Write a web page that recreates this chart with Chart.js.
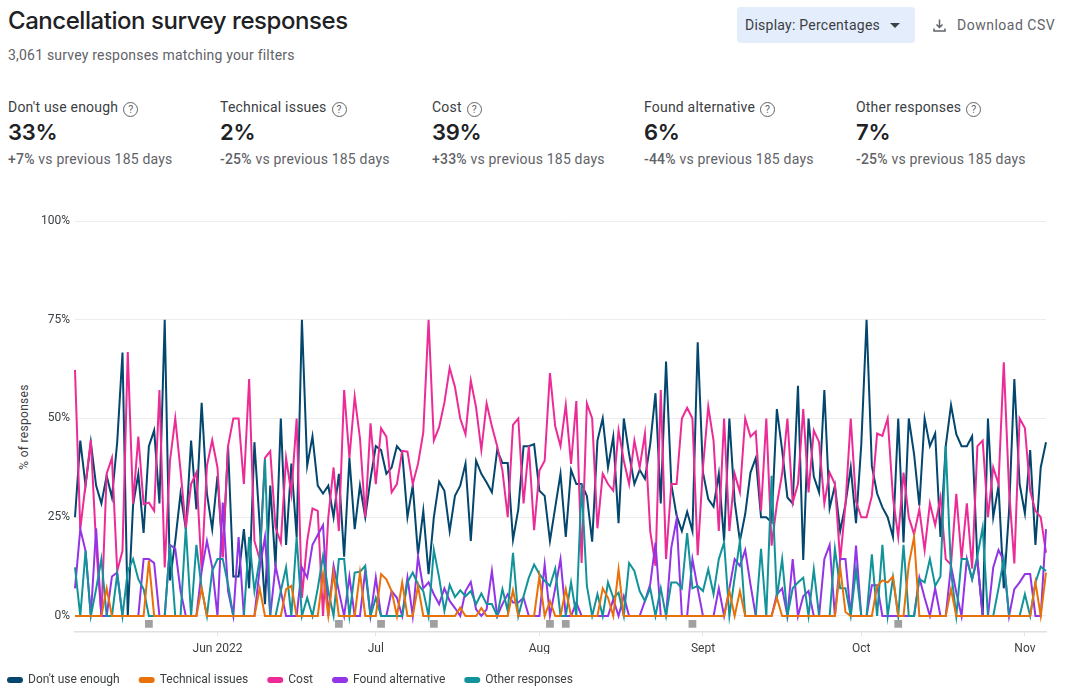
<!DOCTYPE html>
<html>
<head>
<meta charset="utf-8">
<script src="https://cdn.jsdelivr.net/npm/chart.js@4/dist/chart.umd.min.js"></script>
<style>
  html, body { margin: 0; padding: 0; background: #fff; }
  body { width: 1066px; height: 699px; position: relative; overflow: hidden; font-family: Roboto, sans-serif; color: #202124; }
  .abs { position: absolute; white-space: nowrap; }
  h1 { margin: 0; left: 8px; top: 6px; font: 500 24px/30px Inter, Roboto, sans-serif; letter-spacing: -0.45px; }
  .sub { left: 8px; top: 46px; font-size: 14px; line-height: 18px; letter-spacing: 0.2px; color: #5f6368; }
  .btn { left: 737px; top: 7px; width: 178px; height: 36px; background: #e3edfb; border-radius: 4px; }
  .btn span { position: absolute; left: 8px; top: 9px; font-size: 14px; line-height: 18px; letter-spacing: 0.25px; color: #3c4043; }
  .btn i { position: absolute; left: 153px; top: 16px; border: 5.5px solid transparent; border-top: 5.5px solid #3c4043; border-bottom: 0; }
  .dl { left: 957px; top: 16px; font-size: 14px; line-height: 18px; letter-spacing: 0.5px; color: #5f6368; }
  .kpi { top: 98px; }
  .kpi .name { font-size: 14px; line-height: 18px; letter-spacing: 0.2px; color: #3c4043; }
  .kpi .name b { display: inline-block; box-sizing: border-box; width: 15px; height: 15px; margin-left: 5px; border: 1.3px solid #5f6368; border-radius: 50%; font: 400 10.5px/13px Roboto, sans-serif; text-align: center; color: #5f6368; vertical-align: -1px; letter-spacing: 0; }
  .kpi .val { font: 600 22px/28px Inter, Roboto, sans-serif; letter-spacing: -0.3px; margin-top: 1px; }
  .kpi .delta { font-size: 14px; line-height: 18px; margin-top: 4px; letter-spacing: 0.2px; color: #5f6368; }
  .kpi .delta em { font-style: normal; font-weight: 500; }
  .ytitle { left: 24px; top: 427px; font-size: 12px; line-height: 14px; letter-spacing: 0.3px; color: #3c4043; transform: translate(-50%, -50%) rotate(-90deg); }
  #wrap { position: absolute; left: 0; top: 200px; width: 1066px; height: 499px; }
</style>
</head>
<body>
<h1 class="abs">Cancellation survey responses</h1>
<div class="abs sub">3,061 survey responses matching your filters</div>
<div class="abs btn"><span>Display: Percentages</span><i></i></div>
<svg class="abs" style="left:932px;top:18px" width="15" height="15" viewBox="0 0 15 15"><path d="M7.5 1.5v7.5M4.5 6.5l3 3 3-3M2 10.5v2.5h11v-2.5" fill="none" stroke="#5f6368" stroke-width="1.5"/></svg>
<div class="abs dl">Download CSV</div>
<div id="kpis"></div>
<div class="abs ytitle">% of responses</div>
<div id="wrap"><canvas id="chartResponses"></canvas></div>

<script>
const seriesNames = ["Don't use enough", 'Technical issues', 'Cost', 'Found alternative', 'Other responses'];
const seriesColors = ['#03466e', '#e8710a', '#ec2c96', '#9334e6', '#12939a'];
const kpiValues = ['33%', '2%', '39%', '6%', '7%'];
const kpiDeltas = ['+7%', '-25%', '+33%', '-44%', '-25%'];
const kpiLeft = [8, 220, 432, 644, 856];

const yTicks = [0, 25, 50, 75, 100];
const tickDates = ['2022-06-01', '2022-07-01', '2022-08-01', '2022-09-01', '2022-10-01', '2022-11-01'];
const tickLabels = ['Jun 2022', 'Jul', 'Aug', 'Sept', 'Oct', 'Nov'];
const markerDates = ['2022-05-19', '2022-06-24', '2022-07-02', '2022-07-12', '2022-08-03', '2022-08-06', '2022-08-30', '2022-10-08'];

const dontUse = [
  25,44.4,33,44,33,28.5,35.5,30,44,66.7,
  0,28,36,21,43,47,28.5,75,9,19,
  31,22,44.4,27,54,31,22,35.5,15,43,
  10,10,22,7,44,23,3,33,12.5,50,
  18,38.6,20,75,38,45.5,33,31,33,25,
  36,15,40,22,33,25,34.7,43,42,36,
  37.6,43,41.4,25,33,15.6,26.6,10.6,25,34,
  31.7,21.5,30.4,33,38.6,19,39.3,36,33.8,31.3,
  42,38.7,38.7,19.3,27,43,43,43.5,31.7,30.4,
  19,27.5,36,20,37,33.4,33.4,30.4,18.8,44.4,
  50,37.6,45.4,23.5,50,41,33.4,37,34.7,43.5,
  56.4,28.5,64.4,33.4,25.4,21.5,26.4,21.5,69.3,36.3,
  29.6,27.7,36,19,50,29,19,25.8,36.3,40,
  25,25,23.7,52.4,42,30,28.5,58.3,14.2,50,
  35.3,31.3,57.2,27.3,33,21.5,28.3,37.6,23.5,43.5,
  75,38,31,27.5,25,20,50,18.6,50,41,
  27.9,50,43,46.2,20,43,53.4,46,43,43,
  45.5,14,0,50,25,33,7,26.6,60,33.4,
  26,42,18,37.6,44
];
const technical = [
  0,0,0,0,0,0,7,0,0,0,
  0,0,0,0,14,0,0,0,0,0,
  0,0,0,0,7,0,0,0,0,0,
  0,0,0,0,0,7,0,0,0,0,
  6.8,7.6,0,0,0,0,0,10.6,0,11,
  0,0,0,0,11,0,0,0,10.6,9.3,
  6.3,0,8.5,0,0,7.6,0,0,0,0,
  0,0,0,2.1,0,0,0,2,0,0,
  0,0,0,6.5,0,0,0,0,10,0,
  3.8,0,0,6.8,0,0,0,0,0,0,
  7,4.6,0,11.8,0,0,0,0,0,0,
  0,0,0,0,0,0,0,0,0,0,
  0,0,0,0,6.3,0,6.3,0,0,0,
  0,0,0,4.6,0,0,0,0,0,0,
  0,0,0,0,0,12.3,1,0,0,0,
  0,0,7.6,9,8.5,10,0,0,13,20,
  0,0,0,0,0,0,6.8,0,0,0,
  0,0,0,0,0,0,0,0,0,0,
  0,0,8.5,0,11
];
const cost = [
  62.3,22,33.4,44.5,18,0,36,40,11.4,16.5,
  66.8,28.5,45.4,28.3,28.7,26.6,57.2,12.3,39.3,50,
  36.8,22.4,33.4,36.3,11.4,38,44.5,37.6,14.8,43,
  50,50,33.4,60,19,14.4,40,41.7,22.4,18.6,
  40,30.9,50,4.6,19,27.2,26.6,0,25,37.6,
  21.5,57.2,40,55.5,45,25,48.8,33.4,47.5,45.4,
  31.3,33.4,41.8,41.6,33.4,38.5,46.5,75,44.4,47.8,
  54,62.8,58,50,46,59.6,52.8,42,53.8,48,
  43,36.8,25,48.4,50,28.5,43,21.7,36.8,39.3,
  61.5,48,43,53.4,38.5,54.4,13.4,53.8,50,22.2,
  36,33.4,31.7,47,39.3,33.4,44.4,37.6,46.2,21.5,
  12.7,57.2,14.4,33.4,33.4,50,52.7,50,15.4,37.6,
  53,44.4,21.5,50,21.5,36,31.3,50,45.4,46.7,
  26.6,50,17.8,28.3,36,50,28.7,33.4,52.4,31.3,
  47,44,28.5,36.3,33.4,14,28.3,50,29,25,
  25,30.4,46.2,45.6,50,30,20,36.3,25,20.7,
  27,16.7,28.5,23,30,14.4,13,30.9,14.4,28.5,
  12,43,44.4,25,37.6,33.4,64.2,32,13.3,50,
  47.6,31.7,26.6,25,16
];
const alternative = [
  7,22,16.5,0,22.2,0,0,10,11,0,
  0,0,0,14.4,14.4,13.4,0,0,18,17,
  6.3,0,0,0,11.4,19,12.3,0,28.7,6.3,
  0,20,0,0,0,12,20,0,12.7,6.3,
  0,0,0,12.3,9.7,18,20.5,23,0,12.7,
  6.3,0,10,0,0,11.4,0,9.7,0,0,
  6.3,4.6,0,9.7,0,15,7,8.5,5.5,3,
  7,3.8,2,0,6.3,8.6,1.7,0,1.7,11.4,
  0,3,5.5,3.4,3.4,4.6,0,0,0,13,
  0,7,14.4,0,0,3.4,0,0,0,0,
  0,0,4.2,0,5,0,0,0,3.8,8,
  18.6,0,0,17.3,24.5,0,0,14.4,7,0,
  0,0,7,0,7,14.4,12.7,16.7,8,0,
  0,0,0,5.5,7,0,14.4,0,5,6.3,
  0,0,14.4,18,0,14.4,14.4,0,17.8,0,
  0,7.8,7.8,0,0,0,0,0,0,0,
  9.7,4.6,0,7,0,0,12.7,6,0,14.4,
  9.3,14.4,0,0,12.3,16.7,14,0,6.8,8.5,
  10.6,10.6,0,0,22
];
const other = [
  12.3,0,16.5,0,6.8,14.4,0,0,10.6,0,
  11.4,14.4,9.3,6.8,0,0,0,0,18,0,
  0,22.4,0,18,7,0,11.4,14.4,14.4,8,
  0,0,0,20,6.3,14.4,39.7,0,0,6.3,
  12.3,0,20,0,4.6,0,7,15.2,6.3,0,
  14.4,14.4,0,11,11.2,12.7,0,4.6,0,0,
  0,0,0,8.5,11,8,6.3,0,16.7,9.7,
  1.3,7.9,4.8,6.5,5,6.3,3,5.7,3,3,
  0,6.8,1.3,16,0,5,9.7,13,10.6,8.9,
  7.6,12,0,0,8.5,0,33.4,7.6,0,5.5,
  0,8.5,4.6,5.9,0,13.4,11.4,6.3,3.8,7,
  0,7,0,8.5,8.5,7,21,7,7.6,6.3,
  11.8,5.5,14.4,18.6,0,9.7,19,0,0,0,
  17,0,35.5,4.6,14.4,0,7,8.5,9.7,0,
  11.8,0,0,0,17,7,7,0,11.8,0,
  0,15.6,0,18,0,9.7,0,18,0,0,
  9.3,8.5,14.4,7.6,10,43,11.4,0,14.4,14.4,
  9.3,15.2,22.4,0,0,7,14.4,0,0,0,
  5.5,0,8.5,12.5,11.4
];

// one category per day, 5 May to 5 Nov 2022
const categories = [];
for (let i = 0; i < dontUse.length; i++) {
  categories.push(new Date(Date.UTC(2022, 4, 5 + i)).toISOString().slice(0, 10));
}

document.getElementById('kpis').innerHTML = seriesNames.map((name, i) =>
  `<div class="abs kpi" style="left:${kpiLeft[i]}px"><div class="name">${name}<b>?</b></div>` +
  `<div class="val">${kpiValues[i]}</div>` +
  `<div class="delta"><em>${kpiDeltas[i]}</em> vs previous 185 days</div></div>`).join('');

function lineSet(i, values, order) {
  return {
    label: seriesNames[i], data: values, borderColor: seriesColors[i], backgroundColor: seriesColors[i],
    borderWidth: 2, pointRadius: 0, tension: 0, order: order
  };
}

// legend starts at its own padding, pull it back to the page margin
const legendShift = {
  id: 'legendShift',
  afterLayout(chart) { chart.legend.left = -12; }
};

new Chart(document.getElementById('chartResponses').getContext('2d'), {
  type: 'line',
  plugins: [legendShift],
  data: {
    labels: categories,
    datasets: [
      lineSet(0, dontUse, 5),
      lineSet(1, technical, 1),
      lineSet(2, cost, 4),
      lineSet(3, alternative, 3),
      lineSet(4, other, 2),
      {
        label: 'markers',
        data: categories.map(d => markerDates.includes(d) ? -2 : null),
        showLine: false, pointStyle: 'rect', pointRadius: 5.5,
        pointBackgroundColor: '#a0a0a0', pointBorderWidth: 0, order: 0
      }
    ]
  },
  options: {
    responsive: true,
    maintainAspectRatio: false,
    animation: false,
    layout: { padding: { top: 21, right: 20, left: 8, bottom: 3 } },
    plugins: {
      tooltip: { enabled: false },
      legend: {
        position: 'bottom',
        align: 'start',
        labels: {
          filter: item => item.text !== 'markers',
          sort: (a, b) => a.datasetIndex - b.datasetIndex,
          boxWidth: 14, boxHeight: 4, padding: 20,
          useBorderRadius: true, borderRadius: 2,
          color: '#3c4043',
          font: { family: 'Roboto', size: 12 }
        }
      }
    },
    scales: {
      x: {
        ticks: {
          autoSkip: false, maxRotation: 0, padding: 6,
          color: '#3c4043', font: { family: 'Roboto', size: 12 },
          callback: function (v, i) {
            const k = tickDates.indexOf(categories[i]);
            return k >= 0 ? tickLabels[k] : '';
          }
        },
        grid: {
          drawOnChartArea: false, tickLength: 4,
          tickColor: c => tickDates.includes(categories[c.index]) ? '#e0e0e0' : 'transparent'
        },
        border: { color: '#e0e0e0', width: 1.5 },
        afterFit: s => { s.height = 22; }
      },
      y: {
        min: -4.06,
        max: 100,
        afterBuildTicks: s => { s.ticks = yTicks.map(v => ({ value: v })); },
        ticks: {
          padding: 5, color: '#3c4043', font: { family: 'Roboto', size: 12 },
          callback: v => v + '%'
        },
        grid: { color: '#ececec', drawTicks: false },
        border: { display: false },
        afterFit: s => { s.width = 67; }
      }
    }
  }
});
</script>
</body>
</html>
